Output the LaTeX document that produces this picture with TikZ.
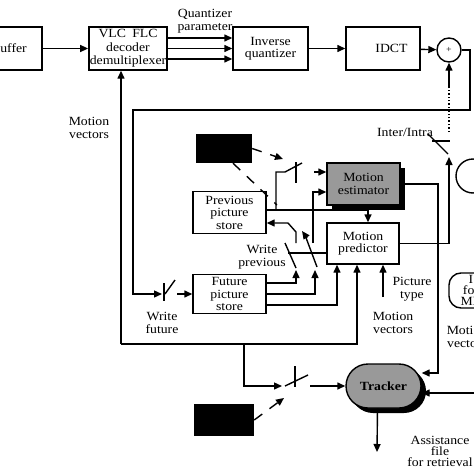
\documentclass[tikz,border=0pt]{standalone}
\usepackage{fontspec}
\setmainfont{Liberation Serif}[FakeStretch=1.1]
\usetikzlibrary{arrows.meta,shadows,shapes.misc}

\begin{document}
\begin{tikzpicture}[x=1pt,y=-1pt,
  font=\fontsize{12.5}{12.5}\selectfont,
  stage/.style={draw,line width=1.4pt,inner sep=1pt,align=center,minimum width=73pt,minimum height=42pt},
  shaded/.style={stage,fill=black!40,drop shadow={shadow xshift=5pt,shadow yshift=-5pt,fill=black,opacity=1}},
  mask/.style={fill=black,inner sep=0pt},
  wire/.style={line width=1.4pt},
  arr/.style={wire,-{Triangle[length=8pt,width=7pt]}},
  ctl/.style={wire,dash pattern=on 10pt off 9pt},
  lbl/.style={align=center,inner sep=0pt}]
\useasboundingbox (0,0) rectangle (474,474);
\clip (0,0) rectangle (474,474);

% decoder chain
\node (buffer) [stage,minimum width=66pt,minimum height=43pt] at (9,48.5) {Buffer};
\node (vlc) [stage,minimum width=72pt,minimum height=43pt,font=\fontsize{12.5}{13.5}\selectfont] at (128,48.5) {VLC\enspace FLC\\decoder\\demultiplexer};
\node (invq) [stage,minimum width=75pt,minimum height=43pt] at (270.5,48.5) {Inverse\\quantizer};
\node (idct) [stage,minimum width=74pt,minimum height=43pt] at (383,48.5) {\hspace*{17pt}IDCT};
\node (plus) [draw,circle,line width=1.4pt,minimum size=24pt,inner sep=0pt,font=\small] at (449,50) {+};

% stores and motion blocks
\node (prev) [stage] at (229.5,212.5) {Previous\\picture\\store};
\node (fut) [stage,minimum height=39pt] at (229.5,294) {Future\\picture\\store};
\node (est) [shaded] at (363.5,184) {Motion\\estimator};
\node (pred) [stage,minimum width=72pt,minimum height=41pt] at (363,243.5) {Motion\\predictor};
\node (tracker) [shaded,rounded rectangle,minimum width=77pt,minimum height=44pt,drop shadow={shadow xshift=4pt,shadow yshift=-4pt,fill=black,opacity=1}] at (383.5,386) {\textbf{Tracker}};
\node (topmask) [mask,minimum width=56pt,minimum height=29pt] at (224,148.5) {};
\node (botmask) [mask,minimum width=60pt,minimum height=32pt] at (224,420) {};
\node (ring) [draw,circle,line width=1.4pt,minimum size=34pt] at (473,176) {};
\node (info) [draw,rounded corners=12pt,line width=1.4pt,minimum width=64pt,minimum height=35pt] at (481,290.5) {};
\node (infotxt) [lbl,font=\fontsize{12.5}{11}\selectfont] at (471,290) {I\\for\\ME};

% labels
\node (qp) [lbl] at (205,21) {Quantizer\\parameter};
\node (mvtxt) [lbl] at (89,128) {Motion\\vectors};
\node (ii) [lbl] at (405,132) {Inter/Intra};
\node (wp) [lbl] at (262,257) {Write\\previous};
\node (wf) [lbl] at (162,323) {Write\\future};
\node (ptyp) [lbl] at (412,289) {Picture\\type};
\node (mvb) [lbl] at (393,323) {Motion\\vectors};
\node (mvr) [lbl] at (467,337) {Motion\\vectors};
\node (af) [lbl,font=\fontsize{12.5}{11}\selectfont] at (440,451) {Assistance\\file\\for retrieval};

\coordinate (wfin) at (162,294);
\coordinate (mvL) at (121,344);
\coordinate (mvT) at (244,344);
\coordinate (trsw) at (282,386);
\coordinate (ptin) at (383,297);
\coordinate (mvin) at (480,393);
\coordinate (assist) at (377,452);

% top row
\draw[arr] (buffer) -- (vlc);
\draw[arr] ([yshift=10.5pt]vlc.east) -- ([yshift=10.5pt]invq.west);
\draw[arr] (vlc.east) -- (invq.west);
\draw[arr] ([yshift=-10.5pt]vlc.east) -- ([yshift=-10.5pt]invq.west);
\draw[arr] (invq) -- (idct);
\draw[arr] (idct) -- (plus);

% feedback to write future
\draw[arr] (plus.east) -| (470,110) -| (133,294) -- (wfin);
\draw[wire] (164,283) -- (164,301);
\draw[wire] (165,294) -- (175,280);
\draw[arr] (177,294) -- (fut.west);

% motion vectors
\draw[arr] (mvL) -- ([xshift=-7pt]vlc.south);
\draw[arr] (mvL) -| ([xshift=-6pt]pred.south);
\draw[arr] (ptin) -- ([xshift=20pt]pred.south);

% previous store outputs
\draw[arr] ([yshift=2.5pt]prev.east) -| ([xshift=5pt]pred.north);
\draw[wire] (276,210) -- (276,172) -- (285,172) -- (302,163);
\draw[wire] (296,162) -- (296,183);
\draw[arr] (314,172) -- ([yshift=12pt]est.west);
\draw[ctl,-{Triangle[length=8pt,width=7pt]}] (topmask.east) -- (283,159);
\draw[ctl] ([xshift=9pt]topmask.south) -- (277,205);

% write previous
\draw[arr] ([yshift=11pt]fut.east) -| (296,270);
\draw[wire] (296,268) -- (285,243);
\draw[arr] (296,243) -- (296,232) -- (288,223) -- ([yshift=-10.5pt]prev.east);
\draw[arr] (307,238) -- (302,231);
\draw[wire] ([yshift=-9.5pt]pred.west) -- (288,253);

% future store to estimator and predictor
\draw[arr] (fut.east) -| (315,270);
\draw[wire] (317,267) -- (305,235);
\draw[arr] (313,243) |- ([yshift=-8pt]est.west);
\draw[arr] ([yshift=-11pt]fut.east) -| ([xshift=-26pt]pred.south);

% inter/intra
\draw[arr] (pred.east) -| (449,157);
\draw[wire] (432,141) -- (450,141);
\draw[wire] (448,154) -- (428,134);
\draw[wire,dotted,line width=1.8pt] (449,132) -- (449,88);
\draw[arr] (449,88) -- (plus.south);

% tracker
\draw[arr] (est.east) -| (438,373) -- ([yshift=13pt]tracker.east);
\draw[arr] (mvin) -- ([yshift=-7pt]tracker.east);
\draw[arr] (mvT) |- (trsw);
\draw[wire] (295,366) -- (295,387);
\draw[wire] (285,386) -- (308,375);
\draw[arr] (310,386) -- (tracker.west);
\draw[ctl,-{Triangle[length=8pt,width=7pt]}] (botmask.east) -- (284,398);
\draw[arr] ([xshift=-6pt]tracker.south) -- (assist);
\end{tikzpicture}
\end{document}
